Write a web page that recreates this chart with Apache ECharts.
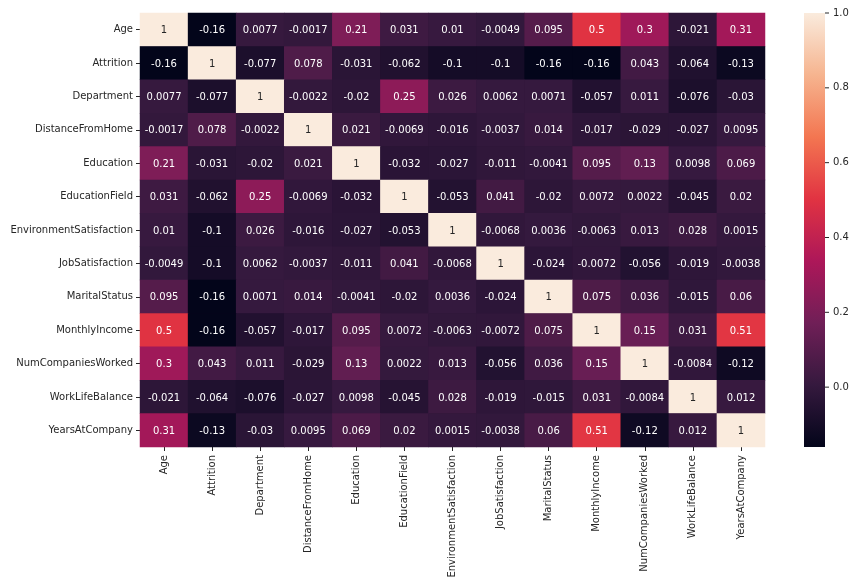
<!DOCTYPE html>
<html><head><meta charset="utf-8">
<script src="https://cdn.jsdelivr.net/npm/echarts@6/dist/echarts.min.js"></script>
<style>html,body{margin:0;padding:0;background:#fff}#c{width:861px;height:585px}</style>
</head><body><div id="c"></div>
<script>
const labels = ["Age","Attrition","Department","DistanceFromHome","Education","EducationField","EnvironmentSatisfaction","JobSatisfaction","MaritalStatus","MonthlyIncome","NumCompaniesWorked","WorkLifeBalance","YearsAtCompany"];
const rowAge = [1,-0.16,0.0077,-0.0017,0.21,0.031,0.01,-0.0049,0.095,0.5,0.3,-0.021,0.31];
const rowAttrition = [-0.16,1,-0.077,0.078,-0.031,-0.062,-0.1,-0.1,-0.16,-0.16,0.043,-0.064,-0.13];
const rowDepartment = [0.0077,-0.077,1,-0.0022,-0.02,0.25,0.026,0.0062,0.0071,-0.057,0.011,-0.076,-0.03];
const rowDistance = [-0.0017,0.078,-0.0022,1,0.021,-0.0069,-0.016,-0.0037,0.014,-0.017,-0.029,-0.027,0.0095];
const rowEducation = [0.21,-0.031,-0.02,0.021,1,-0.032,-0.027,-0.011,-0.0041,0.095,0.13,0.0098,0.069];
const rowEduField = [0.031,-0.062,0.25,-0.0069,-0.032,1,-0.053,0.041,-0.02,0.0072,0.0022,-0.045,0.02];
const rowEnvSat = [0.01,-0.1,0.026,-0.016,-0.027,-0.053,1,-0.0068,0.0036,-0.0063,0.013,0.028,0.0015];
const rowJobSat = [-0.0049,-0.1,0.0062,-0.0037,-0.011,0.041,-0.0068,1,-0.024,-0.0072,-0.056,-0.019,-0.0038];
const rowMarital = [0.095,-0.16,0.0071,0.014,-0.0041,-0.02,0.0036,-0.024,1,0.075,0.036,-0.015,0.06];
const rowIncome = [0.5,-0.16,-0.057,-0.017,0.095,0.0072,-0.0063,-0.0072,0.075,1,0.15,0.031,0.51];
const rowNumComp = [0.3,0.043,0.011,-0.029,0.13,0.0022,0.013,-0.056,0.036,0.15,1,-0.0084,-0.12];
const rowWorkLife = [-0.021,-0.064,-0.076,-0.027,0.0098,-0.045,0.028,-0.019,-0.015,0.031,-0.0084,1,0.012];
const rowYears = [0.31,-0.13,-0.03,0.0095,0.069,0.02,0.0015,-0.0038,0.06,0.51,-0.12,0.012,1];
const rows = [rowAge,rowAttrition,rowDepartment,rowDistance,rowEducation,rowEduField,rowEnvSat,rowJobSat,rowMarital,rowIncome,rowNumComp,rowWorkLife,rowYears];
const colorbarTicks = [0,0.2,0.4,0.6,0.8,1];
const colorMin = -0.16, colorMax = 1;
const rocket = ["#03051a","#35193e","#701f57","#ad1759","#e13342","#f37651","#f6b48f","#faebdd"];

const font = "DejaVu Sans";
const ink = "#262626";
const data = [];
rows.forEach((r,y)=>r.forEach((v,x)=>data.push({value:[x,y,v],label:{color:v>0.7?ink:"#ffffff"}})));

const chart = echarts.init(document.getElementById('c'),null,{renderer:'canvas'});
chart.setOption({
  animation:false,
  backgroundColor:"#fff",
  textStyle:{fontFamily:font},
  grid:[
    {left:140,top:13,width:625,height:434,containLabel:false,show:true,backgroundColor:"#24122f",borderWidth:0},
    {left:804,top:13,width:21,height:434,containLabel:false}
  ],
  xAxis:[
    {type:'category',gridIndex:0,data:labels,position:'bottom',
     axisLine:{show:false},splitLine:{show:false},
     axisTick:{show:true,length:4,alignWithLabel:true,lineStyle:{color:ink,width:1}},
     axisLabel:{rotate:90,interval:0,fontFamily:font,fontSize:10,color:ink,margin:8}},
    {type:'value',gridIndex:1,min:0,max:1,show:false}
  ],
  yAxis:[
    {type:'category',gridIndex:0,data:labels,inverse:true,
     axisLine:{show:false},splitLine:{show:false},
     axisTick:{show:true,length:4,alignWithLabel:true,lineStyle:{color:ink,width:1}},
     axisLabel:{interval:0,fontFamily:font,fontSize:10,color:ink,margin:7,padding:[2,0,0,0]}},
    {type:'value',gridIndex:1,min:colorMin,max:colorMax,position:'right',
     axisLine:{show:false},splitLine:{show:false},axisTick:{show:false},
     axisLabel:{show:true,customValues:colorbarTicks,fontFamily:font,fontSize:10,color:ink,margin:8,
       padding:[2,0,0,0],formatter:v=>Number(v).toFixed(1)}}
  ],
  visualMap:{type:'continuous',min:colorMin,max:colorMax,seriesIndex:0,show:false,inRange:{color:rocket}},
  series:[
    {type:'heatmap',xAxisIndex:0,yAxisIndex:0,data:data,
     label:{show:true,fontFamily:font,fontSize:10,offset:[0,1],
       formatter:p=>String(p.value[2])},
     emphasis:{disabled:true},itemStyle:{borderWidth:0}},
    {type:'custom',xAxisIndex:1,yAxisIndex:1,silent:true,clip:false,z:1,
     data:[[0,colorMin,1,colorMax]],
     encode:{x:[0,2],y:[1,3]},
     renderItem:(params,api)=>{
       const a=api.coord([api.value(0),api.value(3)]);
       const b=api.coord([api.value(2),api.value(1)]);
       return {type:'rect',shape:{x:a[0],y:a[1],width:b[0]-a[0],height:b[1]-a[1]},
         style:{fill:new echarts.graphic.LinearGradient(0,1,0,0,
           rocket.map((c,i)=>({offset:i/(rocket.length-1),color:c})))}};
     }},
    {type:'scatter',xAxisIndex:1,yAxisIndex:1,silent:true,clip:false,z:3,
     data:colorbarTicks.map(v=>[1,v]),
     symbol:'rect',symbolSize:[4,1],symbolOffset:[2,0],
     itemStyle:{color:ink,opacity:1},emphasis:{disabled:true}}
  ]
});
</script></body></html>
